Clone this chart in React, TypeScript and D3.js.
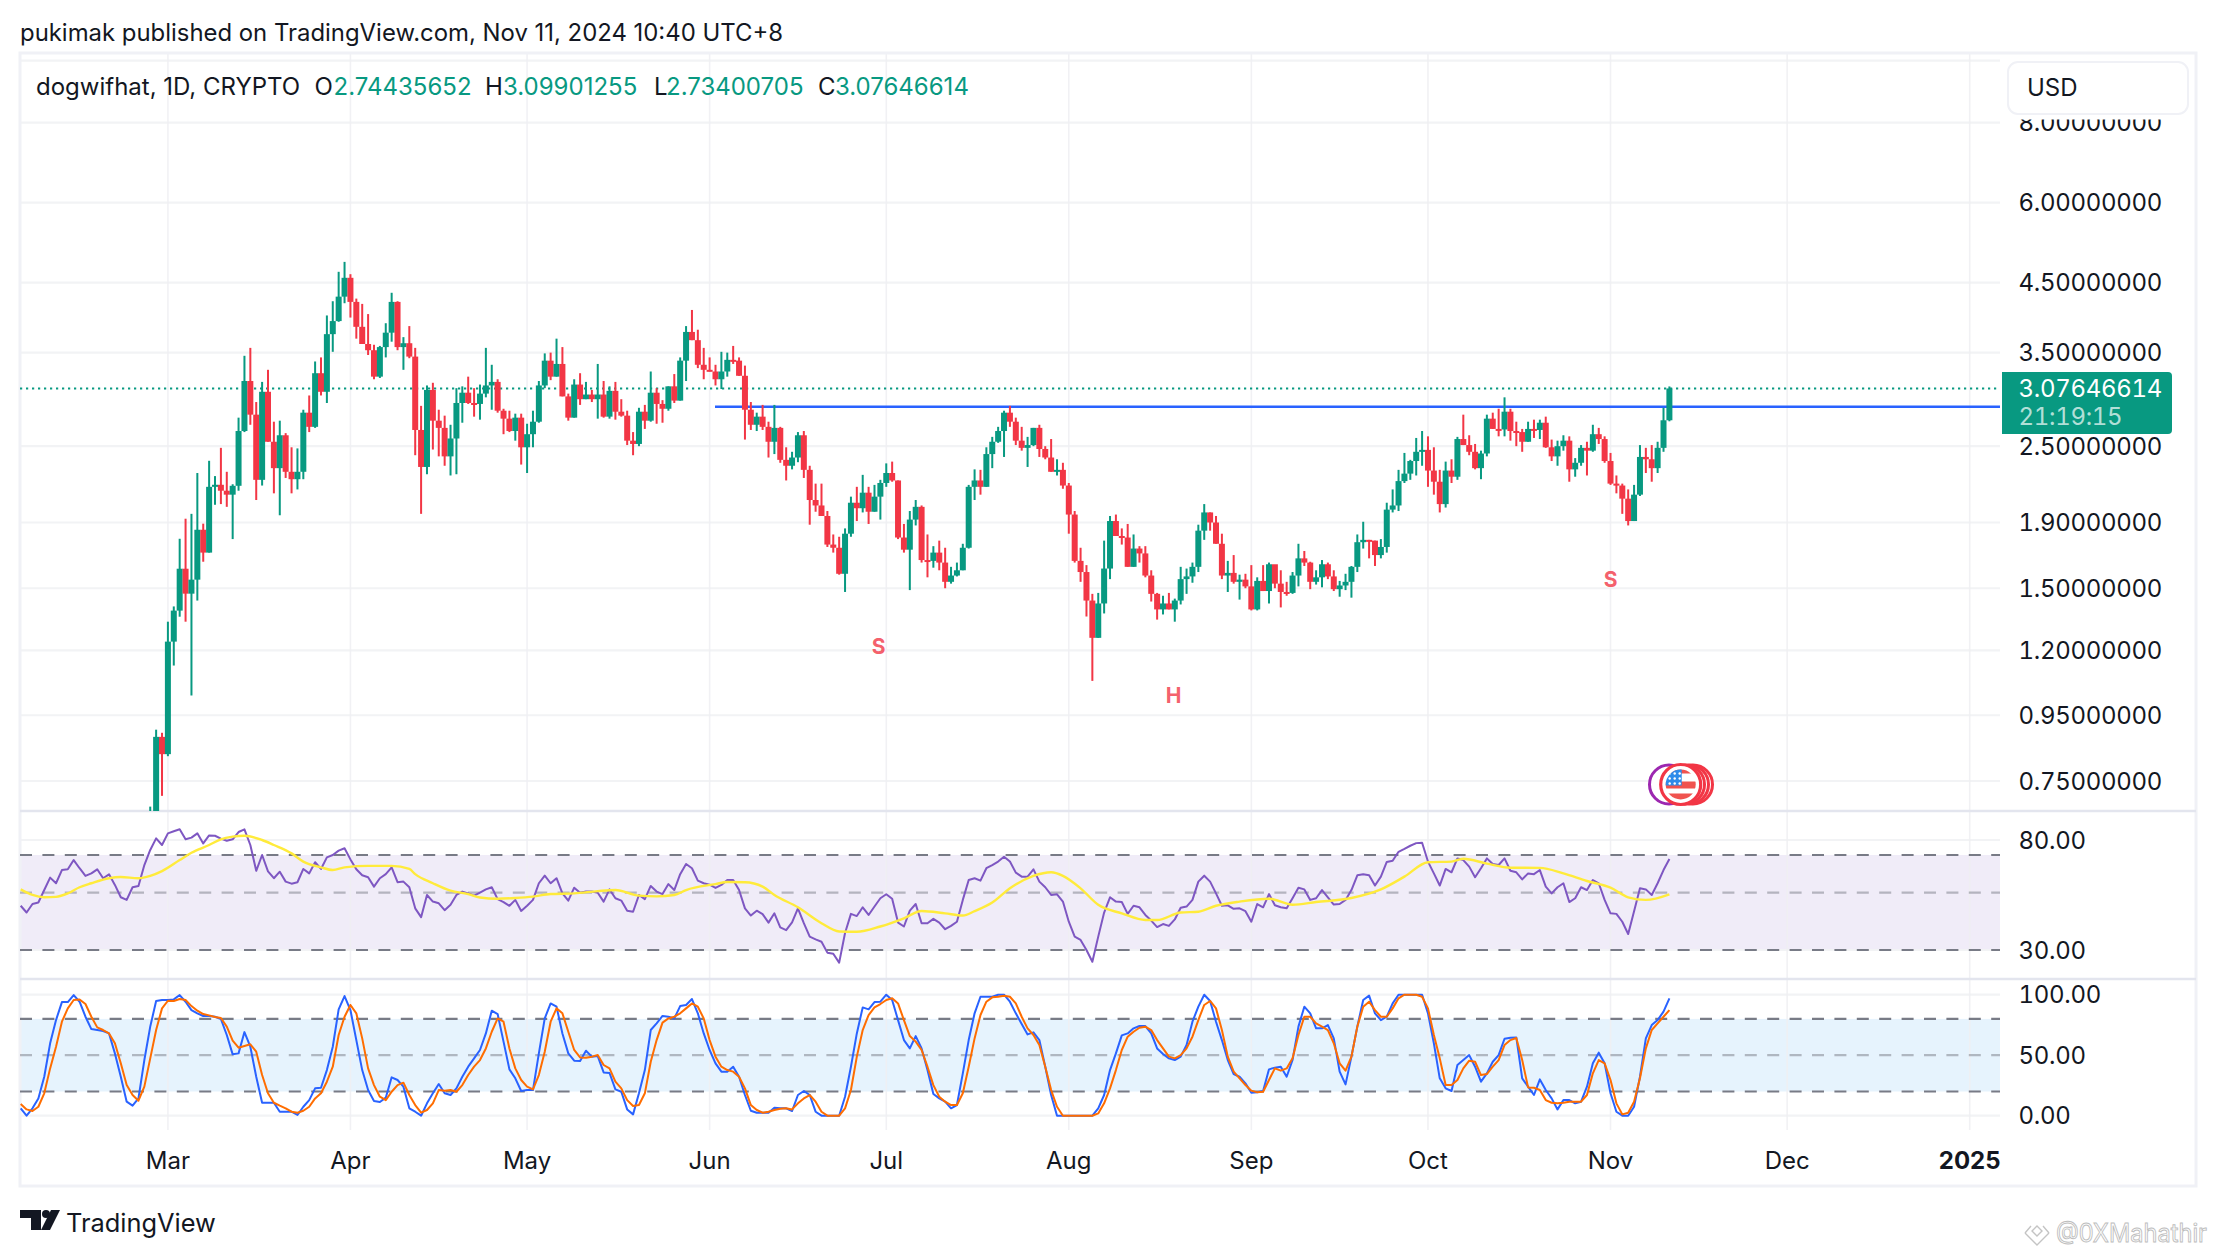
import React from "react";
import * as d3 from "d3";

// ---------- data ----------
const monthTicks: [string, number, number][] = [
  ["Mar", 2024, 2], ["Apr", 2024, 3], ["May", 2024, 4], ["Jun", 2024, 5], ["Jul", 2024, 6],
  ["Aug", 2024, 7], ["Sep", 2024, 8], ["Oct", 2024, 9], ["Nov", 2024, 10], ["Dec", 2024, 11], ["2025", 2025, 0],
];
const priceTicks = [8, 6, 4.5, 3.5, 2.5, 1.9, 1.5, 1.2, 0.95, 0.75];
const extraPriceGrid = [10];
const lastPrice = 3.07646614;
const necklinePrice = 2.88;
const firstOpen = 0.66;
// Daily candles, first one on 27 Feb 2024.
const closes = [
  0.67, 0.879, 0.826, 1.238, 1.384, 1.609, 1.471, 1.547, 1.851, 1.705,
  2.16, 2.176, 2.13, 2.1, 2.168, 2.64, 3.16, 2.8, 2.215, 3.04,
  2.54, 2.31, 2.6, 2.28, 2.22, 2.28, 2.82, 2.68, 3.25, 3.04,
  3.74, 3.92, 4.28, 4.58, 4.2, 3.84, 3.61, 3.53, 3.21, 3.57,
  3.76, 4.2, 3.57, 3.62, 3.45, 2.65, 2.32, 3.06, 2.74, 2.67,
  2.41, 2.57, 2.92, 3.03, 2.92, 2.91, 3.02, 3.11, 3.15, 2.84,
  2.76, 2.64, 2.77, 2.49, 2.61, 2.73, 3.11, 3.4, 3.21, 3.36,
  2.99, 2.77, 3.12, 2.96, 3.01, 2.96, 3.01, 2.78, 3.05, 2.83,
  2.79, 2.55, 2.52, 2.83, 2.74, 3.03, 2.91, 2.86, 3.1, 2.945,
  3.4, 3.77, 3.66, 3.35, 3.29, 3.27, 3.18, 3.27, 3.41, 3.4,
  3.22, 2.85, 2.7, 2.78, 2.68, 2.54, 2.67, 2.38, 2.33, 2.4,
  2.6, 2.296, 2.06, 2.02, 1.945, 1.755, 1.735, 1.58, 1.825, 2.04,
  2.0, 2.115, 1.975, 2.085, 2.19, 2.27, 2.21, 1.8, 1.723, 1.92,
  2.01, 1.66, 1.655, 1.705, 1.645, 1.535, 1.57, 1.6, 1.735, 2.16,
  2.21, 2.16, 2.43, 2.54, 2.64, 2.82, 2.73, 2.55, 2.485, 2.51,
  2.67, 2.475, 2.4, 2.28, 2.296, 2.17, 1.955, 1.655, 1.59, 1.435,
  1.255, 1.42, 1.61, 1.91, 1.81, 1.8, 1.62, 1.73, 1.7, 1.57,
  1.47, 1.39, 1.42, 1.39, 1.435, 1.55, 1.565, 1.62, 1.845, 1.97,
  1.9, 1.76, 1.57, 1.585, 1.535, 1.547, 1.51, 1.39, 1.54, 1.485,
  1.635, 1.525, 1.48, 1.475, 1.57, 1.67, 1.645, 1.535, 1.56, 1.635,
  1.565, 1.495, 1.515, 1.535, 1.62, 1.77, 1.785, 1.78, 1.69, 1.74,
  1.99, 2.02, 2.205, 2.265, 2.37, 2.45, 2.467, 2.29, 2.2, 2.03,
  2.29, 2.24, 2.565, 2.51, 2.45, 2.31, 2.435, 2.76, 2.66, 2.655,
  2.83, 2.64, 2.63, 2.54, 2.66, 2.65, 2.72, 2.49, 2.41, 2.5,
  2.55, 2.3, 2.355, 2.485, 2.46, 2.61, 2.565, 2.37, 2.185, 2.17,
  2.07, 1.91, 2.1, 2.405, 2.385, 2.31, 2.485, 2.744, 3.07646614,
];
const highs = [
  0.684, 0.902, 0.892, 1.33, 1.405, 1.792, 1.926, 1.96, 2.27, 1.892,
  2.372, 2.245, 2.485, 2.28, 2.18, 2.77, 3.46, 3.56, 2.93, 3.15,
  3.29, 2.73, 2.74, 2.62, 2.49, 2.48, 2.85, 3.0, 3.39, 3.44,
  4.0, 4.21, 4.68, 4.85, 4.64, 4.25, 4.17, 4.02, 3.6, 3.585,
  3.89, 4.34, 4.21, 3.7, 3.85, 3.56, 2.89, 3.11, 3.14, 2.85,
  2.79, 2.7, 3.08, 3.1, 3.21, 3.08, 3.12, 3.56, 3.35, 3.18,
  2.86, 2.84, 2.81, 2.81, 2.71, 2.84, 3.16, 3.49, 3.5, 3.68,
  3.57, 3.02, 3.18, 3.25, 3.15, 3.06, 3.36, 3.16, 3.1, 3.15,
  2.96, 2.84, 2.63, 2.87, 2.9, 3.27, 3.08, 2.95, 3.1, 3.24,
  3.44, 3.85, 4.08, 3.8, 3.56, 3.44, 3.35, 3.51, 3.5, 3.585,
  3.44, 3.34, 2.93, 2.82, 2.9, 2.73, 2.9, 2.68, 2.49, 2.45,
  2.63, 2.64, 2.33, 2.185, 2.185, 1.98, 1.82, 1.805, 1.86, 2.085,
  2.16, 2.255, 2.16, 2.175, 2.215, 2.35, 2.365, 2.21, 1.89, 1.98,
  2.06, 2.02, 1.82, 1.745, 1.78, 1.735, 1.62, 1.645, 1.76, 2.175,
  2.3, 2.296, 2.49, 2.585, 2.68, 2.84, 2.89, 2.77, 2.68, 2.585,
  2.67, 2.7, 2.5, 2.565, 2.385, 2.355, 2.19, 1.98, 1.735, 1.63,
  1.47, 1.475, 1.78, 1.945, 1.955, 1.86, 1.89, 1.82, 1.745, 1.745,
  1.6, 1.475, 1.46, 1.475, 1.445, 1.62, 1.61, 1.645, 1.885, 2.03,
  1.97, 1.945, 1.825, 1.655, 1.69, 1.575, 1.58, 1.63, 1.56, 1.63,
  1.645, 1.63, 1.6, 1.535, 1.59, 1.76, 1.715, 1.65, 1.6, 1.66,
  1.645, 1.6, 1.54, 1.58, 1.625, 1.82, 1.905, 1.785, 1.78, 1.79,
  2.04, 2.14, 2.296, 2.44, 2.38, 2.575, 2.64, 2.59, 2.49, 2.296,
  2.365, 2.385, 2.585, 2.8, 2.6, 2.52, 2.46, 2.8, 2.82, 2.86,
  2.98, 2.86, 2.73, 2.66, 2.73, 2.75, 2.75, 2.78, 2.56, 2.55,
  2.6, 2.59, 2.395, 2.51, 2.54, 2.7, 2.67, 2.59, 2.44, 2.25,
  2.185, 2.14, 2.175, 2.51, 2.485, 2.51, 2.54, 2.87, 3.09901255,
];
const lows = [
  0.65, 0.66, 0.711, 0.82, 1.136, 1.354, 1.33, 1.02, 1.435, 1.65,
  1.705, 2.025, 2.03, 2.01, 1.79, 2.13, 2.63, 2.7, 2.06, 2.17,
  2.54, 2.11, 1.95, 2.23, 2.11, 2.14, 2.22, 2.63, 2.67, 3.0,
  2.92, 3.51, 3.91, 4.18, 3.97, 3.68, 3.61, 3.47, 3.18, 3.195,
  3.44, 3.64, 3.53, 3.29, 3.43, 2.42, 1.96, 2.26, 2.47, 2.41,
  2.33, 2.25, 2.26, 2.72, 2.91, 2.78, 2.75, 2.98, 2.85, 2.82,
  2.61, 2.63, 2.55, 2.34, 2.27, 2.49, 2.72, 3.08, 3.17, 3.21,
  2.99, 2.74, 2.77, 2.9, 2.96, 2.93, 2.76, 2.77, 2.76, 2.75,
  2.78, 2.51, 2.42, 2.5, 2.66, 2.73, 2.71, 2.72, 2.84, 2.92,
  2.945, 3.16, 3.66, 3.31, 3.18, 3.27, 3.11, 3.07, 3.21, 3.36,
  3.22, 2.56, 2.65, 2.64, 2.65, 2.4, 2.43, 2.355, 2.21, 2.3,
  2.36, 2.23, 1.885, 1.975, 1.945, 1.74, 1.705, 1.575, 1.48, 1.805,
  1.91, 1.97, 1.89, 1.975, 1.92, 2.16, 2.2, 1.79, 1.705, 1.49,
  1.88, 1.645, 1.56, 1.615, 1.6, 1.5, 1.525, 1.565, 1.6, 1.73,
  2.06, 2.1, 2.16, 2.31, 2.53, 2.405, 2.68, 2.51, 2.46, 2.32,
  2.5, 2.405, 2.385, 2.28, 2.25, 2.145, 1.825, 1.645, 1.535, 1.355,
  1.075, 1.255, 1.37, 1.55, 1.81, 1.755, 1.62, 1.62, 1.645, 1.56,
  1.43, 1.34, 1.365, 1.39, 1.33, 1.415, 1.47, 1.53, 1.59, 1.785,
  1.845, 1.76, 1.55, 1.48, 1.525, 1.44, 1.5, 1.385, 1.385, 1.485,
  1.42, 1.5, 1.4, 1.46, 1.47, 1.51, 1.625, 1.495, 1.52, 1.505,
  1.55, 1.485, 1.455, 1.49, 1.45, 1.59, 1.73, 1.67, 1.625, 1.67,
  1.705, 1.97, 1.98, 2.19, 2.215, 2.25, 2.33, 2.16, 2.1, 1.97,
  2.005, 2.19, 2.215, 2.51, 2.42, 2.3, 2.22, 2.41, 2.66, 2.59,
  2.59, 2.55, 2.5, 2.45, 2.54, 2.575, 2.565, 2.485, 2.37, 2.33,
  2.46, 2.2, 2.24, 2.33, 2.25, 2.45, 2.52, 2.355, 2.175, 2.11,
  1.96, 1.88, 1.91, 2.09, 2.27, 2.2, 2.27, 2.45, 2.73400705,
];
// Indicators, daily from 5 Feb 2024.
const rsi = [
  44.5, 41.9, 45.2, 45.8, 51.2, 57.2, 54.4, 61.2, 61.6, 66.9,
  62.2, 58.1, 59.4, 61.6, 56.9, 58.9, 53.6, 48, 46.9, 52.5,
  53.1, 64, 73.2, 81.2, 76.5, 84.9, 86.5, 88, 80.5, 81.7,
  84.9, 77.6, 83.3, 83.1, 81, 79.5, 80.5, 85.9, 88, 76.5,
  60.8, 70, 60.5, 56.9, 60.3, 55.2, 54.2, 54.9, 61.8, 59.4,
  65.6, 61.8, 68.5, 70, 72.8, 74.3, 67.3, 61.6, 58.4, 57.4,
  52.8, 56.9, 59, 62.7, 54.9, 55.2, 52.5, 43.5, 40.2, 49,
  46.2, 45.5, 42.8, 44.9, 49, 50.5, 49.7, 48.7, 50, 51.5,
  52.5, 47.2, 46, 44.5, 46.9, 42.5, 44.5, 46.9, 54.4, 58.2,
  54.4, 56.9, 49.7, 46.6, 52.3, 50, 50.5, 50.5, 50, 46.2,
  51.5, 47.6, 46.6, 42.6, 42.2, 49, 47.2, 53.1, 50.5, 49.4,
  54, 51.2, 59, 64.6, 62.2, 55.7, 54.4, 53.7, 52.2, 53.6,
  56, 56, 51.2, 43.5, 40.8, 42.6, 41.3, 38.3, 41.6, 36.7,
  35.8, 38.4, 43.5, 38.1, 33.8, 33, 32.3, 29.3, 29, 26.8,
  34.9, 41.4, 40.6, 43.9, 41, 44.2, 47.6, 49.3, 47.4, 38.3,
  37, 42.6, 45.2, 38.1, 38.1, 39.6, 38.3, 36.1, 37.2, 38.6,
  46.9, 56, 56.9, 55.7, 62.2, 64, 66, 68.9, 66, 59.8,
  57.7, 57.7, 61.6, 55.2, 52.5, 49, 49.3, 46.2, 38.6, 33.8,
  32.8, 30, 27, 33.8, 41.9, 48, 46.2, 46, 41.4, 44.5,
  43.9, 41, 39, 36.8, 37.8, 37.2, 39.4, 43.7, 44.2, 46.9,
  55.2, 58.2, 55.2, 49.7, 44.5, 44.7, 43.3, 43.5, 42.4, 38.6,
  45.2, 43.9, 49.4, 44.7, 43.9, 43.5, 47.6, 52.3, 51.5, 46.9,
  47.6, 51.2, 48, 45, 45.2, 46.9, 51.2, 58.4, 58.9, 58.4,
  53.3, 57.7, 65.8, 66.5, 72, 73.9, 76, 77.8, 78.1, 66,
  59.4, 53.3, 61.8, 60, 67.9, 66.9, 63.1, 57.4, 62.2, 67.9,
  64.6, 64, 67.9, 60.8, 60, 56.3, 59.4, 59, 61.2, 52.8,
  49.7, 52.5, 54.4, 46, 47.6, 52.5, 51.2, 56, 54.4, 46.9,
  41.6, 41.4, 38.6, 34.6, 42.4, 52, 51.5, 49, 54.4, 61.2,
  67.5,
];
const maDays = [
  -25, -23, -21, -19, -17, -15, -13, -10, -8, -5,
  -3, -1, 2, 4, 7, 9, 11, 13, 16, 18,
  21, 23, 26, 28, 30, 34, 38, 41, 42, 45,
  48, 51, 53, 56, 59, 62, 65, 69, 73, 76,
  80, 83, 86, 88, 93, 95, 98, 101, 103, 107,
  111, 114, 117, 121, 125, 128, 132, 135, 137, 140,
  143, 147, 150, 152, 155, 158, 162, 166, 168, 172,
  175, 178, 182, 187, 191, 195, 201, 206, 210, 214,
  218, 220, 224, 228, 233, 237, 241, 245, 248, 251,
  255,
];
const maValues = [
  51.5, 49, 48, 48.2, 49.7, 52.5, 54.4, 56.9, 57.5, 56.9,
  58.1, 60.6, 66.9, 71.4, 76.5, 80.5, 82.4, 83.1, 80, 76.5,
  71, 66, 62.7, 61.2, 62.7, 63.5, 63.5, 61.8, 59, 54.4,
  50.9, 49.4, 47.9, 47.4, 47.7, 48.3, 49.4, 49.7, 50.7, 51.2,
  48.7, 48.4, 49, 51.2, 54, 55, 54.9, 52.8, 49, 43.9,
  38.1, 35.4, 35.3, 37, 39.8, 42.5, 41.6, 40.8, 42.4, 45.8,
  52, 58.1, 60, 58.1, 52, 44.9, 41.6, 39.2, 39.2, 41.9,
  42.2, 44.5, 46.2, 47.4, 44.9, 46, 47.7, 51.5, 57.7, 65.6,
  66, 67.7, 64.8, 62.5, 62.4, 59.4, 55.5, 52.3, 48, 46.9,
  49.3,
];
const stochK = [
  6.1, 0, 6.1, 14.3, 32.2, 59.8, 79, 93.9, 93.9, 99.7,
  94.2, 81.8, 71.6, 70.8, 70, 68, 51.5, 32.2, 11.6, 8.3,
  14.3, 46, 73.6, 94.8, 95.6, 95.6, 96.1, 99.7, 94.2, 87.3,
  84.6, 82.4, 82.4, 81.8, 79.9, 66.7, 50.7, 51.5, 69.1, 57,
  32.2, 10.7, 10.7, 10.7, 3.3, 3.3, 3.3, 0.6, 7.4, 12.9,
  22.6, 23.1, 37.7, 57, 87.9, 98.9, 87.3, 62.5, 37.7, 21.2,
  12.1, 11.3, 14.9, 31.7, 29.5, 24, 6.1, 3.3, 0, 10.2,
  18.5, 26.2, 18.5, 17.1, 22.6, 32.2, 40.5, 47.4, 54.3, 68,
  86.8, 84, 61.2, 38.3, 30.9, 20.4, 21.2, 21.2, 51.5, 80.4,
  92.8, 90.1, 68, 51.5, 45.5, 45.2, 53.7, 48.8, 49.3, 35.8,
  35.3, 21.8, 19.8, 5.2, 1.1, 18.5, 37.7, 70.8, 76.3, 82.4,
  81.8, 80.4, 90.6, 91.5, 96.4, 84.6, 68, 54.3, 43.3, 36.4,
  36.4, 40.5, 32.2, 17.1, 4.1, 2.5, 2.5, 2.5, 6.6, 6.1,
  6.1, 3.9, 17.1,
  20.4, 17.1, 3.3, 0, 0, 0, 0, 15.7, 40.5, 68,
  89.5, 87.9, 93.9, 94.2, 100, 95.6, 79, 62.5, 55.6, 65.8,
  55.6, 37.7, 17.9, 14.3, 11.6, 6.1, 8.8, 35, 62.5, 84.6,
  98.3, 98.3, 98.3, 100, 100, 94.2, 84.6, 75.8, 67.2, 68.9,
  62.5, 40.5, 17.1, 0, 0, 0, 0, 0, 0, 0,
  6.1, 17.1, 37.7, 51.5, 66.4, 68, 72.2, 74.1, 74.1, 68,
  55.6, 51, 47.4, 46, 48.8, 58.4, 77.7, 90.1, 100, 94.8,
  77.7, 62.5, 46, 34.4, 32.2, 26.7, 19, 19.3, 20.4, 38.3,
  39.7, 40.5, 32.2, 46, 73.6, 90.1, 84.6, 72.2, 72.2, 74.9,
  63.9, 36.4, 25.9, 48.8, 73.6, 95.6, 99.2, 84.6, 79, 81.8,
  92.8, 100, 100, 100, 100, 100, 84.6, 59.8, 30.9, 22.6,
  20.4, 41.9, 46, 50.1, 40.5, 28.1, 35, 44.6, 50.1, 63.6,
  64.5, 64.7, 30.9, 24, 17.1, 30, 21.2, 14.3, 5.2, 12.9,
  12.9, 10.2, 11.6, 24, 43.3, 52.1, 43.3, 18.5, 3.3, 0,
  0, 7.4, 32.2, 63.9, 74.9, 79, 86, 97,
];
const stochD = [
  9.6, 5.2, 3.9, 7.4, 18.5, 39.1, 57, 77.7, 88.7, 95.6,
  96.1, 92.3, 81.8, 73, 70.8, 68, 59.8, 43.3, 25.3, 17.1,
  12.4, 24, 47.4, 70.8, 88.7, 95, 94.8, 96.4, 95.6, 90.6,
  86.8, 84, 82.9, 81.5, 80.7, 73.6, 62, 56.2, 57.6, 59,
  52.9, 33.6, 18.5, 10.7, 8.3, 6.1, 3.3, 2.5, 4.1, 7.4,
  14.3, 18.5, 28.1, 40.5, 66.7, 81.8, 91.5, 84.6, 63.9, 39.1,
  25.3, 15.7, 12.9, 19.8, 25.3, 27.3, 17.1, 8.8, 2.5, 4.7,
  10.2, 21.2, 20.7, 21.2, 19.8, 25.3, 33.6, 40.5, 46, 55.6,
  69.4, 80.4, 77.7, 55.6, 39.1, 29.5, 24, 21.8, 33.6, 52.9,
  77.7, 88.7, 84.6, 69.4, 54.3, 48.2, 47.9, 48.8, 50.1, 41.9,
  39.1, 28.1, 22.6, 12.9, 8, 8.8, 18.5, 44.6, 62.5, 76.9,
  80.4, 81.8, 84.6, 88.7, 92.8, 90.1, 80.4, 62.5, 48.8, 40.5,
  37.7, 36.4, 32.2, 22.6, 8.8, 4.7, 2.5, 3.3, 4.7, 5.8,
  6.1, 5.2, 10.2,
  14.3, 17.1, 11.6, 3.3, 0, 0, 0, 6.1, 21.2, 48.8,
  70.8, 83.2, 89.5, 92.3, 95.6, 97, 92.8, 79, 65.8, 61.2,
  54.3, 40.5, 25.3, 15.7, 11.6, 8.8, 8.8, 18.5, 40.5, 63.9,
  83.2, 94.2, 97.8, 98.3, 99.2, 98.3, 92.8, 81.8, 72.2, 66.7,
  58.4, 40.5, 21.2, 7.4, 0, 0, 0, 0, 0, 0,
  1.9, 10.2, 22.6, 37.7, 54.3, 65.3, 69.4, 72.7, 73.6, 70.8,
  62.5, 55.6, 48.8, 47.4, 50.1, 55.6, 65.3, 79, 91.5, 94.8,
  88.7, 70.8, 48.8, 36.4, 30.9, 25.3, 20.7, 19.3, 19.8, 29.5,
  39.1, 37.2, 39.1, 47.4, 66.7, 81.8, 81.8, 76.3, 73.6, 70.8,
  59.8, 43.3, 37.2, 48.8, 73.6, 90.1, 94.2, 87.3, 81.8, 81.8,
  88.7, 97, 100, 100, 100, 98.3, 88.7, 66.7, 47.4, 25.3,
  25.3, 29.5, 39.1, 45.5, 44.6, 33.6, 34.4, 40.5, 46, 58.4,
  62.5, 64.2, 46, 23.4, 23.1, 21.2, 12.9, 10.7, 10.2, 10.7,
  11.6, 11.6, 11.6, 17.1, 35, 46, 43.3, 29.5, 10.2, 1.1,
  2.5, 11.6, 30.9, 55.6, 70.8, 76.3, 81.8, 87.3,
];
const rsiTicks = [80, 30];
const rsiLevels = [70, 50, 30];
const stochTicks = [100, 50, 0];
const stochLevels = [80, 50, 20];
const legendValues = [
  ["O", "2.74435652"], ["H", "3.09901255"], ["L", "2.73400705"], ["C", "3.07646614"],
];
// label, day offset from 1 Mar 2024, price level
const patternLabels: [string, number, number][] = [
  ["S", 120.7, 1.215],
  ["H", 170.8, 1.02],
  ["S", 245, 1.547],
];

// ---------- layout ----------
const W = 2216, H = 1256;
const L = 20, R = 2000, FR = 2196, FT = 53, FB = 1186;
const PB = 811, RB = 979, SB = 1130;
const GREEN = "#089981", RED = "#F23645", BLUE = "#2962FF", INK = "#131722";
const GRID = "#F2F3F5";
const FONT = "Inter, 'Noto Sans', sans-serif";

const DAY = 86400000;
const mar1 = Date.UTC(2024, 2, 1);
const xScale = d3.scaleUtc().domain([mar1, Date.UTC(2025, 0, 1)]).range([167.9, 1969.7]);
const xOf = (k: number) => xScale(new Date(mar1 + k * DAY));
const yPrice = d3.scaleLog().domain([0.75, 8]).range([781, 122.7]);
const yRsi = d3.scaleLog().domain([30, 80]).range([950, 840]);
const yStoch = d3.scaleLinear().domain([0, 100]).range([1115.7, 994.7]);

const opens = [firstOpen, ...closes.slice(0, -1)];
const CANDLE_START = -3, IND_START = -25;

const dayLine = (y: (v: number) => number, start: number) =>
  d3.line<number>().x((_, i) => xOf(start + i)).y((v) => y(v));

const dashStyle = { strokeDasharray: "12 10.4" };
const axisText: React.CSSProperties = { fontFeatureSettings: "'tnum'", letterSpacing: -0.3 };

function Candles() {
  return (
    <g clipPath="url(#pricePane)">
      {closes.map((c, i) => {
        const o = opens[i];
        const col = c >= o ? GREEN : RED;
        const x = xOf(CANDLE_START + i);
        const top = yPrice(Math.max(o, c));
        const bot = yPrice(Math.min(o, c));
        return (
          <g key={i} fill={col}>
            <rect x={x - 1} width={2} y={yPrice(highs[i])} height={yPrice(lows[i]) - yPrice(highs[i])} />
            <rect x={x - 3} width={6} y={top} height={Math.max(bot - top, 2)} />
          </g>
        );
      })}
    </g>
  );
}

function UsFlag() {
  const cx = 1680.7, cy = 784.5;
  return (
    <g>
      <circle cx={1669} cy={cy} r={19.5} fill="#fff" stroke="#9C27B0" strokeWidth={3} />
      {[1693, 1689, 1685].map((c) => (
        <circle key={c} cx={c} cy={cy} r={19.5} fill="#fff" stroke={RED} strokeWidth={3} />
      ))}
      <circle cx={cx} cy={cy} r={20} fill="#fff" stroke={RED} strokeWidth={3.2} />
      <clipPath id="flagClip"><circle cx={cx} cy={cy} r={15} /></clipPath>
      <g clipPath="url(#flagClip)">
        <rect x={cx - 16} y={cy - 16} width={32} height={32} fill="#fff" />
        <rect x={cx - 16} y={cy - 16} width={32} height={5} fill="#F0534F" />
        <rect x={cx - 16} y={cy - 3} width={32} height={7} fill="#F0534F" />
        <rect x={cx - 16} y={cy + 9} width={32} height={8} fill="#F0534F" />
        <rect x={cx - 16} y={cy - 16} width={17} height={17} fill="#2E8BEA" />
        {[-11, -6, -1].map((dy) =>
          [-11, -6, -1].map((dx) => (
            <circle key={`${dx}${dy}`} cx={cx + dx} cy={cy + dy} r={1.2} fill="#fff" />
          ))
        )}
      </g>
    </g>
  );
}

export default function App() {
  const months = monthTicks.map(([label, y, m]) => ({ label, x: xScale(new Date(Date.UTC(y, m, 1))) }));
  const maLine = d3
    .line<number>()
    .x((_, i) => xOf(maDays[i]))
    .y((v) => yRsi(v))
    .curve(d3.curveMonotoneX);
  const priceLabelX = 2018.5;
  return (
    <svg
      width={W}
      height={H}
      viewBox={`0 0 ${W} ${H}`}
      style={{ position: "absolute", left: 0, top: 0, background: "#fff" }}
      fontFamily={FONT}
    >
      <defs>
        <clipPath id="pricePane"><rect x={L} y={FT} width={R - L} height={PB - FT} /></clipPath>
      </defs>

      <text x={20} y={32} fontSize={23.9} fill={INK} dominantBaseline="central">
        pukimak published on TradingView.com, Nov 11, 2024 10:40 UTC+8
      </text>

      {/* bands */}
      <rect x={L} y={yRsi(70)} width={R - L} height={yRsi(30) - yRsi(70)} fill="#F0ECF8" />
      <rect x={L} y={yStoch(80)} width={R - L} height={yStoch(20) - yStoch(80)} fill="#E6F3FD" />

      {/* grid */}
      <g stroke={GRID} strokeWidth={2.2}>
        {[...extraPriceGrid, ...priceTicks].map((p) => (
          <line key={p} x1={L} x2={R} y1={yPrice(p)} y2={yPrice(p)} />
        ))}
        {rsiTicks.map((p) => <line key={p} x1={L} x2={R} y1={yRsi(p)} y2={yRsi(p)} />)}
        {[100, 0].map((p) => <line key={p} x1={L} x2={R} y1={yStoch(p)} y2={yStoch(p)} />)}
      </g>
      <g stroke="#EEEEF2" strokeOpacity={0.85} strokeWidth={1.6}>
        {months.map((m) => <line key={m.label} x1={m.x} x2={m.x} y1={FT} y2={SB} />)}
      </g>

      {/* frame and separators */}
      <rect x={L} y={FT} width={FR - L} height={FB - FT} fill="none" stroke="#F0F1F6" strokeWidth={3} />
      <g stroke="#E3E5EE" strokeWidth={2.6}>
        <line x1={L} x2={FR} y1={PB} y2={PB} />
        <line x1={L} x2={FR} y1={RB} y2={RB} />
      </g>

      {/* level lines */}
      {rsiLevels.map((v) => (
        <line key={v} x1={L} x2={R} y1={yRsi(v)} y2={yRsi(v)} stroke="#787B86" strokeOpacity={v === 50 ? 0.5 : 1} strokeWidth={2.2} {...dashStyle} />
      ))}
      {stochLevels.map((v) => (
        <line key={v} x1={L} x2={R} y1={yStoch(v)} y2={yStoch(v)} stroke="#787B86" strokeOpacity={v === 50 ? 0.5 : 1} strokeWidth={2.2} {...dashStyle} />
      ))}

      {/* price pane */}
      <line x1={L} x2={R} y1={yPrice(lastPrice)} y2={yPrice(lastPrice)} stroke={GREEN} strokeWidth={2} strokeDasharray="2.2 3.8" />
      <line x1={715} x2={R} y1={yPrice(necklinePrice)} y2={yPrice(necklinePrice)} stroke={BLUE} strokeWidth={2.4} />
      <Candles />
      {patternLabels.map(([t, k, p], i) => (
        <text key={i} x={xOf(k)} y={yPrice(p)} fontSize={21} fontWeight={700} fill={RED} fillOpacity={0.8} textAnchor="middle" dominantBaseline="central">{t}</text>
      ))}
      <UsFlag />

      {/* RSI */}
      <path d={dayLine(yRsi, IND_START)(rsi) ?? ""} fill="none" stroke="#7E57C2" strokeWidth={2} strokeLinejoin="round" />
      <path d={maLine(maValues) ?? ""} fill="none" stroke="#FFEB3B" strokeWidth={2.4} />

      {/* Stoch */}
      <path d={dayLine(yStoch, IND_START)(stochK) ?? ""} fill="none" stroke={BLUE} strokeWidth={2} strokeLinejoin="round" />
      <path d={dayLine(yStoch, IND_START)(stochD) ?? ""} fill="none" stroke="#FF6D00" strokeWidth={2} strokeLinejoin="round" />

      {/* legend */}
      <text x={36} y={86} fontSize={24} fill={INK} dominantBaseline="central">dogwifhat, 1D, CRYPTO</text>
      {legendValues.map(([k, v], i) => {
        const lx = [314.5, 485, 654, 818][i];
        const vx = [333.6, 503, 666, 835][i];
        return (
          <g key={k} fontSize={24}>
            <text x={lx} y={86} fill={INK} dominantBaseline="central">{k}</text>
            <text x={vx} y={86} fill={GREEN} dominantBaseline="central">{v}</text>
          </g>
        );
      })}

      {/* price labels */}
      {priceTicks.map((p) => (
        <text key={p} x={priceLabelX} y={yPrice(p)} fontSize={24} fill={INK} style={axisText} dominantBaseline="central">{p.toFixed(8)}</text>
      ))}
      <path d="M2002 372 H2168 a4 4 0 0 1 4 4 V430 a4 4 0 0 1 -4 4 H2002 Z" fill={GREEN} />
      <text x={priceLabelX} y={yPrice(lastPrice)} fontSize={24} fill="#fff" style={axisText} dominantBaseline="central">{lastPrice.toFixed(8)}</text>
      <text x={priceLabelX} y={416.7} fontSize={24} fill="#fff" fillOpacity={0.7} style={axisText} dominantBaseline="central">21:19:15</text>

      <rect x={2003} y={56} width={190} height={63.5} fill="#fff" />
      <rect x={2008} y={62} width={180} height={52} rx={10} fill="#fff" stroke="#F0F1F6" strokeWidth={2} />
      <text x={2027} y={87.5} fontSize={24} fill={INK} dominantBaseline="central">USD</text>

      {rsiTicks.map((v) => (
        <text key={v} x={priceLabelX} y={yRsi(v)} fontSize={24} fill={INK} style={axisText} dominantBaseline="central">{v.toFixed(2)}</text>
      ))}
      {stochTicks.map((v) => (
        <text key={v} x={priceLabelX} y={yStoch(v)} fontSize={24} fill={INK} style={axisText} dominantBaseline="central">{v.toFixed(2)}</text>
      ))}

      {/* time axis */}
      {months.map((m) => (
        <text key={m.label} x={m.x} y={1160} fontSize={24} fontWeight={m.label === "2025" ? 700 : 400} fill={INK} textAnchor="middle" dominantBaseline="central">{m.label}</text>
      ))}

      {/* logo */}
      <g fill={INK}>
        <path d="M20 1210 H41 V1230 H31 V1218 H20 Z" />
        <circle cx={46} cy={1214} r={4} />
        <path d="M51 1210 H60 L50 1230 H41 Z" />
      </g>
      <text x={66} y={1222} fontSize={25.4} fill={INK} dominantBaseline="central">TradingView</text>

      {/* watermark */}
      <g fill="none" stroke="#C4C4C4" strokeWidth={1.4}>
        <path d="M2037 1226 l5 5 l-5 5 l-5 -5 Z M2025 1233 l12 12 l12 -12 M2031 1226 l-6 7 M2043 1226 l6 7" />
      </g>
      <text x={2056} y={1233} fontSize={25} textLength={151} lengthAdjust="spacingAndGlyphs" fill="#fff" stroke="#BDBDBD" strokeWidth={0.9} dominantBaseline="central">@0XMahathir</text>
    </svg>
  );
}
